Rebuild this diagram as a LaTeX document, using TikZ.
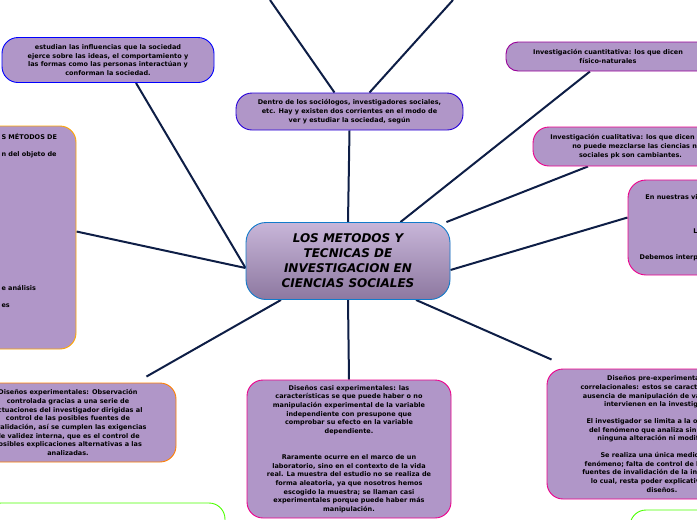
\documentclass[tikz,border=0pt]{standalone}
\usepackage{fontspec}
\setmainfont{DejaVu Sans}
\usetikzlibrary{positioning,backgrounds}
\definecolor{lila}{HTML}{B096C8}
\definecolor{linea}{HTML}{0E1E46}
\begin{document}
\begin{tikzpicture}[x=1pt, y=-1pt,
    every node/.style={font=\fontsize{6.5}{8.7}\selectfont\bfseries, text=black},
    topic/.style={rectangle, rounded corners=16pt, fill=lila, line width=0.9pt, align=center, inner sep=3pt},
    link/.style={draw=linea, line width=2pt}]
    \useasboundingbox (0,0) rectangle (697,520);
    \clip (0,0) rectangle (697,520);
    % central topic
    \node[topic, draw=cyan!60!blue, top color=lila!70!white, bottom color=lila!80!black, minimum width=204pt, minimum height=77pt, rounded corners=20pt,
      font=\fontsize{12}{15}\selectfont\bfseries\itshape] (main) at (348,261) {LOS METODOS Y\\TECNICAS DE\\INVESTIGACION EN\\CIENCIAS SOCIALES};
    % subtopics
    \node[topic, draw=blue, minimum width=212pt, minimum height=45pt] (influ) at (108,60) {estudian las influencias que la sociedad\\ejerce sobre las ideas, el comportamiento y\\las formas como las personas interactúan y\\conforman la sociedad.};
    \node[topic, draw=blue!70!violet, minimum width=227pt, minimum height=37pt] (dentro) at (349.5,111.5) {Dentro de los sociólogos, investigadores sociales,\\etc. Hay y existen dos corrientes en el modo de\\ver y estudiar la sociedad, según};
    \node[topic, draw=violet!80!magenta, minimum width=230pt, minimum height=29pt, rounded corners=12pt] (cuanti) at (621,56.5) {Investigación cuantitativa: los que dicen\hspace*{26pt}\\físico-naturales\hspace*{26pt}};
    \node[topic, draw=magenta, minimum width=240pt, minimum height=39pt] (cuali) at (653,146.5) {Investigación cualitativa: los que dicen que\hspace*{45pt}\\no puede mezclarse las ciencias naturales y\hspace*{45pt}\\sociales pk son cambiantes.\hspace*{45pt}};
    \node[topic, draw=magenta, minimum width=200pt, minimum height=95pt, rounded corners=18pt] (nuestras) at (728,227.5) {En nuestras vidas\hspace*{100pt}\\sentido común y\hspace*{100pt}\\l\hspace*{150pt}\\[8pt]Los investigadores\hspace*{100pt}\\v\hspace*{150pt}\\[8pt]Debemos interpretar\hspace*{100pt}};
    \node[topic, draw=orange!70!yellow, minimum width=210pt, minimum height=223pt, rounded corners=16pt] (metodos) at (-29,237.5) {};
    \node[anchor=north west, align=left] (metodostxt) at (-2,130) {S MÉTODOS DE\\[8pt]n del objeto de\\[126pt]e análisis\\[8pt]es};
    \node[topic, draw=orange, minimum width=216pt, minimum height=79pt] (experi) at (68,422.5) {Diseños experimentales: Observación\\controlada gracias a una serie de\\actuaciones del investigador dirigidas al\\control de las posibles fuentes de\\invalidación, así se cumplen las exigencias\\de validez interna, que es el control de\\posibles explicaciones alternativas a las\\analizadas.};
    \node[topic, draw=magenta, minimum width=204pt, minimum height=138pt] (casi) at (349,449) {Diseños casi experimentales: las\\características se que puede haber o no\\manipulación experimental de la variable\\independiente con presupone que\\comprobar su efecto en la variable\\dependiente.\\[17pt]Raramente ocurre en el marco de un\\laboratorio, sino en el contexto de la vida\\real. La muestra del estudio no se realiza de\\forma aleatoria, ya que nosotros hemos\\escogido la muestra; se llaman casi\\experimentales porque puede haber más\\manipulación.};
    \node[topic, draw=magenta, minimum width=230pt, minimum height=130pt] (pre) at (662,434) {Diseños pre-experimentales o\\correlacionales: estos se caracterizan por la\\ausencia de manipulación de variables que\\intervienen en la investigación.\\[8pt]El investigador se limita a la observación\\del fenómeno que analiza sin introducir\\ninguna alteración ni modificación.\\[8pt]Se realiza una única medición del\\fenómeno; falta de control de las posibles\\fuentes de invalidación de la investigación,\\lo cual, resta poder explicativo a estos\\diseños.};
    \node[topic, draw=green!70!yellow, fill=white, minimum width=240pt, minimum height=50pt] (verde1) at (105,528) {};
    \node[topic, draw=green!70!yellow, fill=white, minimum width=120pt, minimum height=50pt] (verde2) at (690,535) {};
    % connectors
    \coordinate (arriba1) at (270,0);
    \coordinate (arriba2) at (453,0);
    \begin{scope}[on background layer]
    \draw[link] (arriba1) -- ([xshift=-15pt]dentro.north);
    \draw[link] (arriba2) -- ([xshift=20pt]dentro.north);
    \draw[link] (main.north) -- (dentro.south);
    \draw[link] ([yshift=-7pt]main.west) -- ([xshift=28pt]influ.south);
    \draw[link] ([xshift=-50pt]main.north east) -- ([xshift=-31pt]cuanti.south);
    \draw[link] ([xshift=-4pt]main.north east) -- ([xshift=-65pt]cuali.south);
    \draw[link] ([yshift=-9pt]main.east) -- ([yshift=10pt]nuestras.west);
    \draw[link] ([yshift=-7pt]main.west) -- ([yshift=6pt]metodos.east);
    \draw[link] ([xshift=-67pt]main.south) -- ([xshift=-30pt,yshift=6pt]experi.north east);
    \draw[link] (main.south) -- (casi.north);
    \draw[link] ([xshift=68pt]main.south) -- ([xshift=5pt,yshift=9pt]pre.north west);
    \end{scope}
\end{tikzpicture}
\end{document}
